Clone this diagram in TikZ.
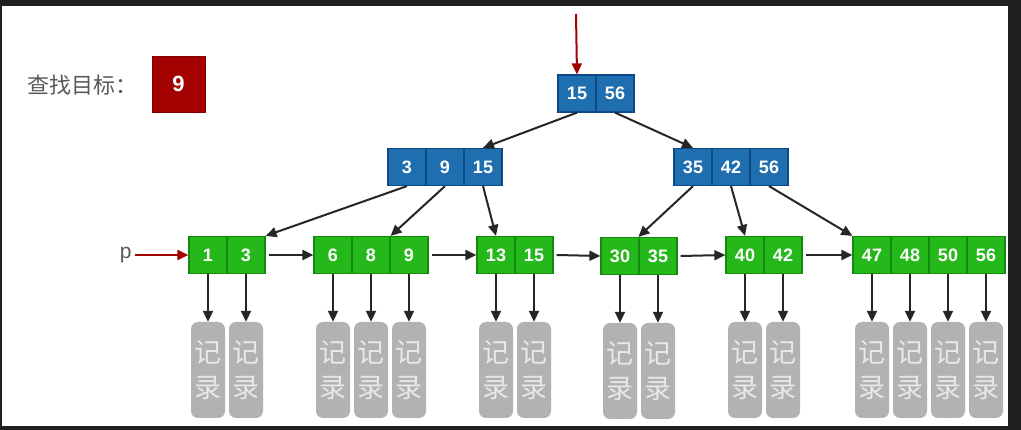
\documentclass[tikz,border=0pt]{standalone}
\usepackage{fontspec}
\setmainfont{Liberation Sans}
\newfontfamily\cjk{Noto Sans CJK SC}
\usetikzlibrary{arrows.meta}
\definecolor{bfill}{HTML}{1F6FB0}\definecolor{bline}{HTML}{0D4A85}
\definecolor{gfill}{HTML}{25B81A}\definecolor{gline}{HTML}{138A0E}
\definecolor{rfill}{HTML}{A30000}\definecolor{rec}{HTML}{B2B2B2}
\tikzset{
 cell/.style={draw=#1line,fill=#1fill,line width=1.2pt,minimum width=38pt,minimum height=37pt,inner sep=0pt,text=white,font=\fontsize{18}{18}\selectfont\bfseries},
 rec/.style={fill=rec,rounded corners=7pt,minimum width=34pt,minimum height=96pt,inner sep=0pt,text=white!70!rec,font=\cjk\fontsize{27}{35}\selectfont,align=center},
 arr/.style={-{Triangle[length=11pt,width=10pt]},line width=2pt,black!85},
 rarr/.style={-{Triangle[length=11pt,width=10pt]},line width=2pt,rfill},
}
\newcommand{\cellrow}[5]{% name, color, x, y, list
 \foreach \v [count=\i] in {#5}{\node[cell=#2] (#1\i) at ({#3+(\i-1)*38},#4) {\v};}}
\newcommand{\recs}[2]{% name, count
 \foreach \i in {1,...,#2}{
  \node[rec] (#1r\i) at ([yshift=-115pt]#1\i.center) {记\\录};
  \draw[arr] (#1\i.south) -- (#1r\i.north);}}
\begin{document}
\begin{tikzpicture}[x=1pt,y=-1pt]
\fill[black!88] (0,0) rectangle (1021,430);
\fill[white] (2,6) rectangle (1008,426);
\useasboundingbox (0,0) rectangle (1021,430);
\node[font=\cjk\fontsize{22}{22}\selectfont,text=black!65,anchor=west] (lbl) at (24,85) {查找目标：};
\node[fill=rfill,draw=rfill!80!black,minimum width=53pt,minimum height=56pt,text=white,font=\fontsize{22}{22}\selectfont\bfseries] (tgt) at (178.5,84) {9};
% root
\cellrow{R}{b}{577}{93.5}{15,56}
\coordinate (rt) at (576,14);
\draw[rarr] (rt) -- (R1.north);
% level 2
\cellrow{A}{b}{407}{167}{3,9,15}
\cellrow{B}{b}{693}{167}{35,42,56}
\draw[arr] (R1.south) -- (A3.north);
\draw[arr] (R2.south) -- (B1.north);
% leaves
\cellrow{P}{g}{208}{255}{1,3}
\cellrow{Q}{g}{333}{255}{6,8,9}
\cellrow{S}{g}{496}{255}{13,15}
\cellrow{T}{g}{620}{256}{30,35}
\cellrow{U}{g}{745}{255}{40,42}
\cellrow{V}{g}{872}{255}{47,48,50,56}
\draw[arr] (A1.south) -- (P2.north east);
\draw[arr] (A2.south) -- (Q2.north east);
\draw[arr] (A3.south) -- (S1.north);
\draw[arr] (B1.south) -- (T2.north west);
\draw[arr] (B2.south) -- (U1.north);
\draw[arr] (B3.south) -- (V1.north west);
\coordinate (pa) at (135,255);
\node[font=\fontsize{21}{21}\selectfont,text=black!65,anchor=east] (p) at (pa) {p};
\draw[rarr] (pa) -- (P1.west);
\draw[arr] ([xshift=3pt]P2.east) -- (Q1.west);
\draw[arr] ([xshift=3pt]Q3.east) -- (S1.west);
\draw[arr] ([xshift=3pt]S2.east) -- (T1.west);
\draw[arr] ([xshift=3pt]T2.east) -- (U1.west);
\draw[arr] ([xshift=3pt]U2.east) -- (V1.west);
\recs{P}{2}
\recs{Q}{3}
\recs{S}{2}
\recs{T}{2}
\recs{U}{2}
\recs{V}{4}
\end{tikzpicture}
\end{document}
